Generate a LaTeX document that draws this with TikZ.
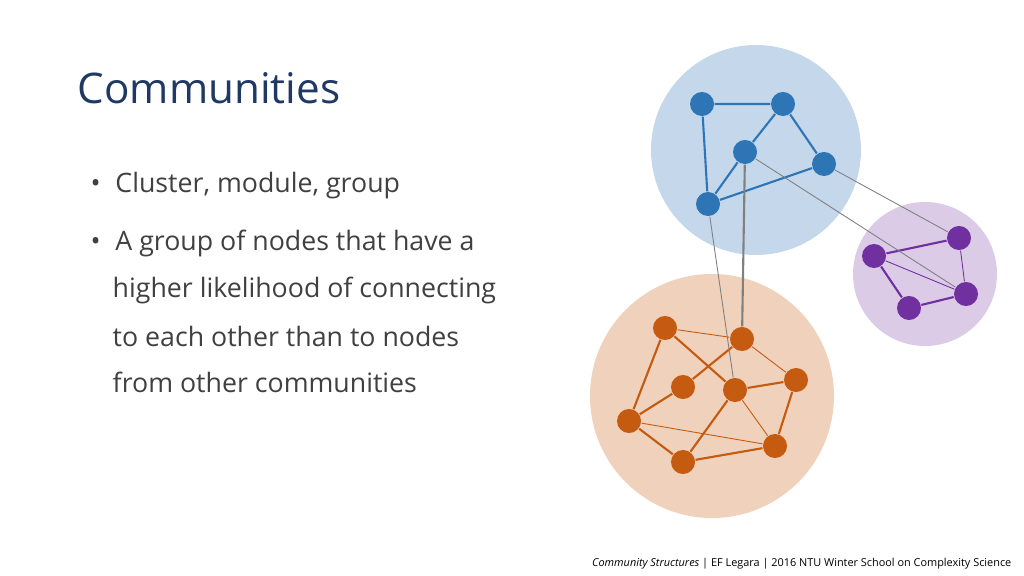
\documentclass[tikz,border=0pt]{standalone}
\usepackage{fontspec}
\setmainfont{Open Sans}
\begin{document}
\begin{tikzpicture}[x=0.01cm,y=-0.01cm,
  bn/.style={circle,fill=blueN,minimum size=0.24cm,inner sep=0},
  pn/.style={circle,fill=purpN,minimum size=0.24cm,inner sep=0},
  on/.style={circle,fill=orN,minimum size=0.24cm,inner sep=0},
  thk/.style={line width=0.6pt},
  thn/.style={line width=0.25pt},
  inter/.style={gray,line width=0.25pt},
  txt/.style={anchor=west,inner sep=0,text=textC,font=\fontsize{7.6}{9}\selectfont}]
\definecolor{blueN}{RGB}{46,117,182}
\definecolor{purpN}{RGB}{112,48,160}
\definecolor{orN}{RGB}{197,90,17}
\definecolor{textC}{RGB}{64,64,64}
\definecolor{titleC}{RGB}{31,56,100}
\useasboundingbox (0,0) rectangle (1024,576);
\fill[blueN!28] (756,150) circle (105);
\fill[purpN!25] (925,274) circle (72);
\fill[orN!28] (712,396) circle (122);
\node[bn] (b1) at (702,104) {};
\node[bn] (b2) at (783,104) {};
\node[bn] (b3) at (745,152) {};
\node[bn] (b4) at (824,164) {};
\node[bn] (b5) at (708,204) {};
\node[pn] (p1) at (959,238) {};
\node[pn] (p2) at (874,256) {};
\node[pn] (p3) at (966,294) {};
\node[pn] (p4) at (909,308) {};
\node[on] (o1) at (665,328) {};
\node[on] (o2) at (742,339) {};
\node[on] (o3) at (683,387) {};
\node[on] (o4) at (735,390) {};
\node[on] (o5) at (796,380) {};
\node[on] (o6) at (629,421) {};
\node[on] (o7) at (775,446) {};
\node[on] (o8) at (683,462) {};
\draw[blueN,thk] (b1)--(b2) (b1)--(b5) (b2)--(b3) (b2)--(b4) (b3)--(b5) (b5)--(b4);
\draw[purpN,thk] (p2)--(p1) (p3)--(p4) (p4)--(p2);
\draw[purpN,thn] (p1)--(p3) (p2)--(p3);
\draw[orN,thk] (o1)--(o6) (o1)--(o4) (o3)--(o2) (o3)--(o6) (o4)--(o5) (o5)--(o7) (o6)--(o8) (o8)--(o4) (o8)--(o7);
\draw[orN,thn] (o1)--(o2) (o2)--(o5) (o6)--(o7) (o4)--(o7);
\draw[gray,line width=0.6pt] (b3)--(o2);
\draw[inter] (b5)--(o4) (b3)--(p3) (b4)--(p1);
\node[anchor=west,inner sep=0,text=titleC,font=\fontsize{12}{14}\selectfont] (title) at (77,88) {Communities};
\node[txt] (l1) at (90,186) {•\hspace{0.55em}Cluster, module, group};
\node[txt] (l2) at (90,243) {•\hspace{0.55em}A group of nodes that have a};
\node[txt] (l3) at (112,290) {higher likelihood of connecting};
\node[txt] (l4) at (112,336) {to each other than to nodes};
\node[txt] (l5) at (112,382) {from other communities};
\node[anchor=east,inner sep=0,text=black,font=\fontsize{3.1}{4}\selectfont] (foot) at (1012,564) {\textit{Community Structures} | EF Legara | 2016 NTU Winter School on Complexity Science};
\end{tikzpicture}
\end{document}
